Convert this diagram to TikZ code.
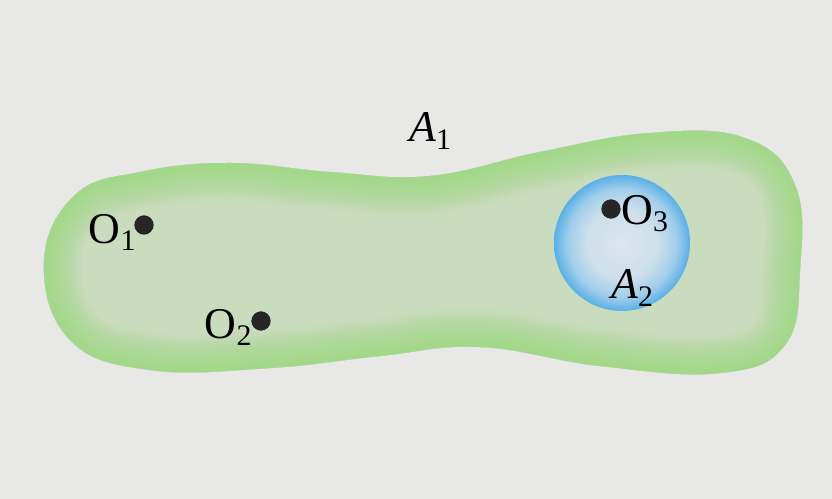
\documentclass[tikz,border=0pt]{standalone}
\usepackage{fontspec}
\setmainfont{Liberation Serif}
\definecolor{paper}{RGB}{232,232,230}
\definecolor{blobgreen}{RGB}{150,216,118}
\definecolor{blobin}{RGB}{202,220,190}
\definecolor{discblue}{RGB}{88,176,232}
\definecolor{discin}{RGB}{220,230,236}
\pgfdeclareradialshading{discshade}{\pgfpoint{0bp}{0bp}}{%
    color(0bp)=(discin); color(13bp)=(discin!88!discblue);
    color(20bp)=(discin!55!discblue); color(25bp)=(discblue);
    color(50bp)=(discblue)}
\newcommand{\sub}[1]{\raisebox{-0.35ex}{\fontsize{17}{20}\selectfont #1}}
\begin{document}
\begin{tikzpicture}[x=0.02cm,y=-0.02cm]
    \tikzstyle{pt}=[circle,fill=black!85,inner sep=0pt,minimum size=11pt]
    \tikzstyle{lbl}=[inner sep=0pt,font=\fontsize{25}{28}\selectfont]
    \fill [paper] (0,0) rectangle (832,499);
    \useasboundingbox (0,0) rectangle (832,499);
    % region A1
    \def\blob{plot [smooth cycle,tension=0.7] coordinates {
        (44,262) (75,195) (140,172) (230,163) (330,172) (430,176)
        (540,152) (650,133) (745,138) (795,185) (800,270) (785,345)
        (720,373) (600,366) (480,347) (380,356) (270,368) (150,370)
        (70,340)}}
    \fill [blobin] \blob;
    \begin{scope}
        \clip \blob;
        \foreach \w in {3,6,...,42}
            \draw [blobgreen,line width=\w pt,opacity=0.08] \blob;
    \end{scope}
    % region A2
    \shade [shading=discshade] (622,243) circle (68);
    % points
    \node [pt] (o1) at (144,225) {};
    \node [pt] (o2) at (261,321) {};
    \node [pt] (o3) at (611,209) {};
    \node [lbl,anchor=east] (o1l) at (136,232) {O\sub{1}};
    \node [lbl,anchor=east] (o2l) at (252,327) {O\sub{2}};
    \node [lbl,anchor=west] (o3l) at (621,214) {O\sub{3}};
    \node [lbl] (a1) at (430,131) {\textit{A}\sub{1}};
    \node [lbl] (a2) at (632,288) {\textit{A}\sub{2}};
\end{tikzpicture}
\end{document}
